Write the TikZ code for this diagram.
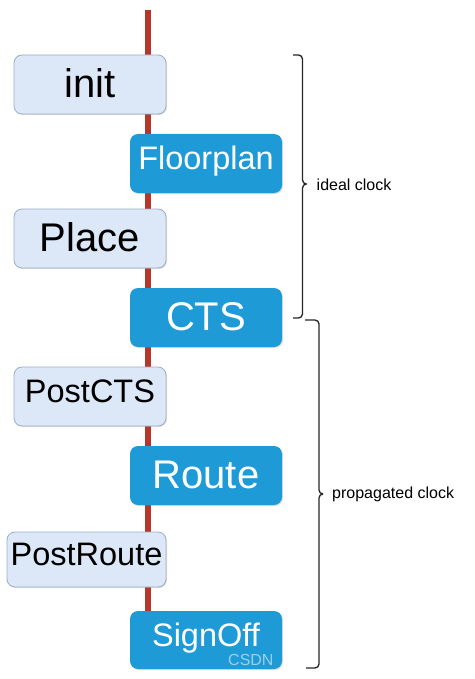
\documentclass[tikz,border=0pt]{standalone}
\usepackage{fontspec}
\setmainfont{Liberation Sans}
\usetikzlibrary{backgrounds,shadows}
\definecolor{lightbox}{HTML}{DCE8F8}
\definecolor{lightedge}{HTML}{9EADC4}
\definecolor{darkbox}{HTML}{1E9BD7}
\definecolor{redline}{HTML}{B5372A}
\definecolor{bracecol}{HTML}{262626}
\tikzset{
  boxbase/.style={rectangle, rounded corners=8pt, inner sep=0pt,
    minimum width=152pt, minimum height=59pt,
    drop shadow={opacity=0.25, shadow xshift=1pt, shadow yshift=-1pt}},
  lightstep/.style={boxbase, fill=lightbox, draw=lightedge, line width=0.8pt, text=black},
  darkstep/.style={boxbase, fill=darkbox, draw=none, text=white},
  bigtext/.style={font=\fontsize{40}{40}\selectfont, text height=30pt, text depth=4pt},
  smalltext/.style={font=\fontsize{32.5}{32.5}\selectfont, text height=24pt, text depth=12pt},
  bracestyle/.style={draw=bracecol, line width=1.3pt, rounded corners=4pt},
  lbl/.style={font=\fontsize{16}{16}\selectfont, anchor=base west, inner sep=0pt}
}
\begin{document}
\begin{tikzpicture}[x=1pt,y=-1pt]
\useasboundingbox (0,0) rectangle (474,679);
\coordinate (top) at (148,10);
\node[lightstep,bigtext] (init) at (90,84.5) {init};
\node[darkstep,smalltext] (floorplan) at (206,163.5) {Floorplan};
\node[lightstep,bigtext] (place) at (90,238.5) {Place};
\node[darkstep,bigtext] (cts) at (206,317.5) {CTS};
\node[lightstep,smalltext] (postcts) at (90,396.5) {PostCTS};
\node[darkstep,bigtext] (route) at (206,475.5) {Route};
\node[lightstep,smalltext,minimum width=159pt,minimum height=55pt] (postroute) at (86.5,559.5) {PostRoute};
\node[darkstep,smalltext,minimum height=58pt] (signoff) at (206,640) {SignOff};
\node[font=\fontsize{16}{16}\selectfont, text=white, opacity=0.55, anchor=base west, inner sep=0pt] (wm) at (228,665) {CSDN};
\begin{scope}[on background layer]
  \fill[white] (0,0) rectangle (474,679);
  \draw[redline, line width=6pt] (top) -- (top |- signoff.center);
\end{scope}
% ideal clock brace
\draw[bracestyle] (293,55) -- (302.5,55) -- (302.5,184) -- (306.5,184);
\draw[bracestyle] (293,318) -- (302.5,318) -- (302.5,184) -- (306.5,184);
\node[lbl] (ideal) at (316.5,190) {ideal clock};
% propagated clock brace
\draw[bracestyle] (305,320) -- (319,320) -- (319,494) -- (323,494);
\draw[bracestyle] (306,668) -- (319,668) -- (319,494) -- (323,494);
\node[lbl] (prop) at (332,498) {propagated clock};
\end{tikzpicture}
\end{document}
